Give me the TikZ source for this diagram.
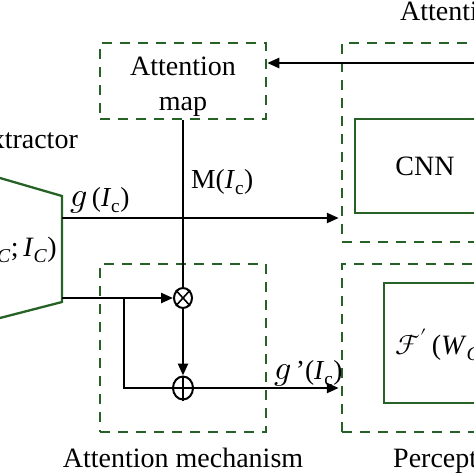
\documentclass[tikz,border=0pt]{standalone}
\usepackage{fontspec}
\usepackage{unicode-math}
\setmainfont{Liberation Serif}
\usetikzlibrary{arrows.meta,shapes.geometric}
\definecolor{dkgreen}{RGB}{38,98,38}
\tikzset{
  dbox/.style={draw=dkgreen, line width=2.5pt, dash pattern=on 10pt off 8pt, inner sep=0pt},
  sbox/.style={draw=dkgreen, line width=2.3pt, inner sep=0pt},
  wire/.style={draw=black, line width=2.4pt},
  arr/.style={wire, -{Triangle[length=12pt,width=10pt]}},
  txt/.style={font=\fontsize{28}{35}\selectfont, inner sep=0pt},
  lab/.style={font=\fontsize{27.5}{30}\selectfont, inner sep=0pt},
  opnode/.style={draw, line width=2pt, ellipse, inner sep=0pt},
}
\newcommand{\myscrg}{{\fontsize{34}{34}\selectfont$g$}}
\begin{document}
\begin{tikzpicture}[x=1pt,y=-1pt]
\useasboundingbox (0,0) rectangle (474,474);
\clip (0,0) rectangle (474,474);
% boxes
\node[dbox, minimum width=166, minimum height=76] (amap) at (183,81) {};
\node[dbox, minimum width=166, minimum height=168] (amech) at (183,348) {};
\node[dbox, minimum width=170, minimum height=199] (rtop) at (427,142.5) {};
\node[dbox, minimum width=170, minimum height=168] (rbot) at (427,348) {};
\node[sbox, minimum width=140, minimum height=94] (cnn) at (425,166) {};
\node[sbox, minimum width=130, minimum height=120] (fprime) at (449,343) {};
% trapezoid (feature extractor)
\coordinate (tl) at (-40,166.4);
\coordinate (tr1) at (62,196);
\coordinate (tr2) at (62,302);
\coordinate (bl) at (-40,328.3);
\draw[sbox] (tl) -- (tr1) -- (tr2) -- (bl);
\coordinate (gout) at (62,218);
\coordinate (fout) at (62,298);
% operators
\node[opnode, minimum width=18, minimum height=20] (ot) at (183,298) {};
\node[opnode, minimum width=20, minimum height=23] (opl) at (183,388) {};
\draw[line width=1.6pt] (ot.north east) -- (ot.south west) (ot.north west) -- (ot.south east);
\draw[line width=1.6pt] (opl.north) -- (opl.south) (opl.west) -- (opl.east);
% connectors
\coordinate (fb) at (490,63);
\draw[arr] (fb) -- (fb -| amap.east);
\draw[wire] (amap.south) -- (ot.north);
\draw[arr, shorten >=2pt] (gout) -- (gout -| rtop.west);
\draw[arr] (fout) -- (ot.west);
\coordinate (br) at (124,298);
\draw[wire] (br) |- (opl.west);
\draw[arr] (ot.south) -- (opl.north);
\draw[arr, shorten >=2pt] (opl.east) -- (opl.east -| rbot.west);
% texts
\node[txt, anchor=base] (t1) at (183,75) {Attention};
\node[txt, anchor=base] (t2) at (183,110) {map};
\node[txt, anchor=base east] (fe) at (78,148) {Feature extractor};
\node[txt, anchor=base east] (flab) at (57,256) {$\mscrF$(\textit{W}\textsubscript{\textit{C}};\,\textit{I}\textsubscript{\textit{C}})};
\node[txt, anchor=base] (cnnt) at (cnn.center |- 0,175) {CNN};
\node[txt, anchor=base west] (fpl) at (395,354) {$\mscrF'$\,(\textit{W}\textsubscript{\textit{C}};\,\textit{I}\textsubscript{\textit{C}})};
\node[lab, anchor=base west] (ml) at (191,188) {M(\textit{I}\textsubscript{c})};
\node[lab, anchor=base west] (gl) at (70,206) {\myscrg\,(\textit{I}\textsubscript{c})};
\node[lab, anchor=base west] (gpl) at (274,379) {\myscrg\,'(\textit{I}\textsubscript{c})};
\node[txt, anchor=base] (am) at (183,467) {Attention mechanism};
\node[txt, anchor=base west] (at) at (400,20) {Attention};
\node[txt, anchor=base west] (pc) at (393,467) {Perception};
\end{tikzpicture}
\end{document}
